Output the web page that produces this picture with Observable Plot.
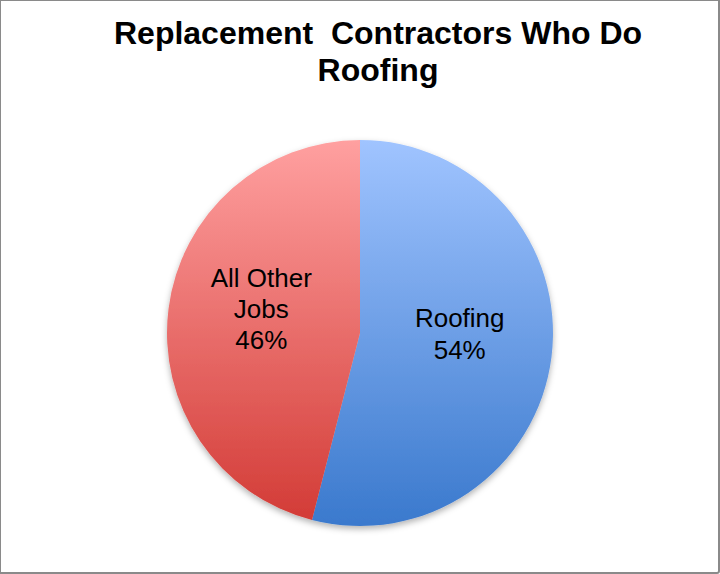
<!DOCTYPE html>
<html>
<head>
<meta charset="utf-8">
<script src="https://cdn.jsdelivr.net/npm/d3@7"></script>
<script src="https://cdn.jsdelivr.net/npm/@observablehq/plot@0.6"></script>
<style>
  html, body { margin: 0; padding: 0; background: #fff; }
  #wrap { position: relative; width: 720px; height: 574px; overflow: hidden; background: #fff; font-family: "Liberation Sans", Arial, sans-serif; }
  #title { height: 105px; box-sizing: border-box; padding: 15px 0 0 36px; text-align: center; font-weight: bold; font-size: 32px; line-height: 37px; color: #000; white-space: pre; }
  #border { position: absolute; left: 0; top: 0; right: 0; bottom: 0; border-style: solid; border-color: #8a8a8a; border-width: 1px 2px 2px 1px; border-radius: 0 0 3px 0; pointer-events: none; }
  svg { display: block; }
</style>
</head>
<body>
<div id="wrap">
  <div id="title">Replacement  Contractors Who Do
Roofing</div>
  <div id="chart"></div>
  <div id="border"></div>
</div>
<script>
// ---- data ----
const categories = ["Roofing", "All Other Jobs"];
const values = [54, 46];
const labelTexts = ["Roofing\n54%", "All Other\nJobs\n46%"];
const topColors = ["#A0C4FF", "#FFA0A0"];
const bottomColors = ["#3A79CD", "#D23A35"];

const W = 720, H = 469;
const cx = 360, cy = 228, R = 193, labelR = 100;

const data = categories.map((c, i) => ({category: c, value: values[i], label: labelTexts[i], i}));
const arcs = d3.pie().sort(null).value(d => d.value)(data);
const arcGen = d3.arc().innerRadius(0).outerRadius(R);
const labelArc = d3.arc().innerRadius(labelR).outerRadius(labelR);
const labelData = arcs.map(a => {
  const [lx, ly] = labelArc.centroid(a);
  return {x: cx + lx, y: cy + ly, label: a.data.label};
});

function pieMark() {
  const g = d3.create("svg:g");
  const defs = g.append("defs");
  arcs.forEach((a, i) => {
    const grad = defs.append("linearGradient")
      .attr("id", "grad" + i)
      .attr("gradientUnits", "userSpaceOnUse")
      .attr("x1", 0).attr("y1", -R).attr("x2", 0).attr("y2", R);
    grad.append("stop").attr("offset", "0%").attr("stop-color", topColors[i]);
    grad.append("stop").attr("offset", "100%").attr("stop-color", bottomColors[i]);
  });
  const f = defs.append("filter").attr("id", "shadow").attr("x", "-20%").attr("y", "-20%").attr("width", "140%").attr("height", "140%");
  f.append("feDropShadow").attr("dx", 0).attr("dy", 3).attr("stdDeviation", 3).attr("flood-color", "#000").attr("flood-opacity", 0.3);
  const pie = g.append("g").attr("transform", `translate(${cx},${cy})`).attr("filter", "url(#shadow)");
  pie.selectAll("path").data(arcs).join("path")
    .attr("d", arcGen)
    .attr("fill", (d, i) => `url(#grad${i})`);
  return g.node();
}

const chart = Plot.plot({
  width: W,
  height: H,
  margin: 0,
  x: {type: "identity", axis: null},
  y: {type: "identity", axis: null},
  style: {background: "transparent", fontFamily: "'Liberation Sans', Arial, sans-serif"},
  marks: [
    pieMark,
    Plot.text(labelData, {x: "x", y: "y", text: "label", fontSize: 26, lineHeight: 1.2, fill: "#000", dy: -13})
  ]
});
document.getElementById("chart").appendChild(chart);
</script>
</body>
</html>
